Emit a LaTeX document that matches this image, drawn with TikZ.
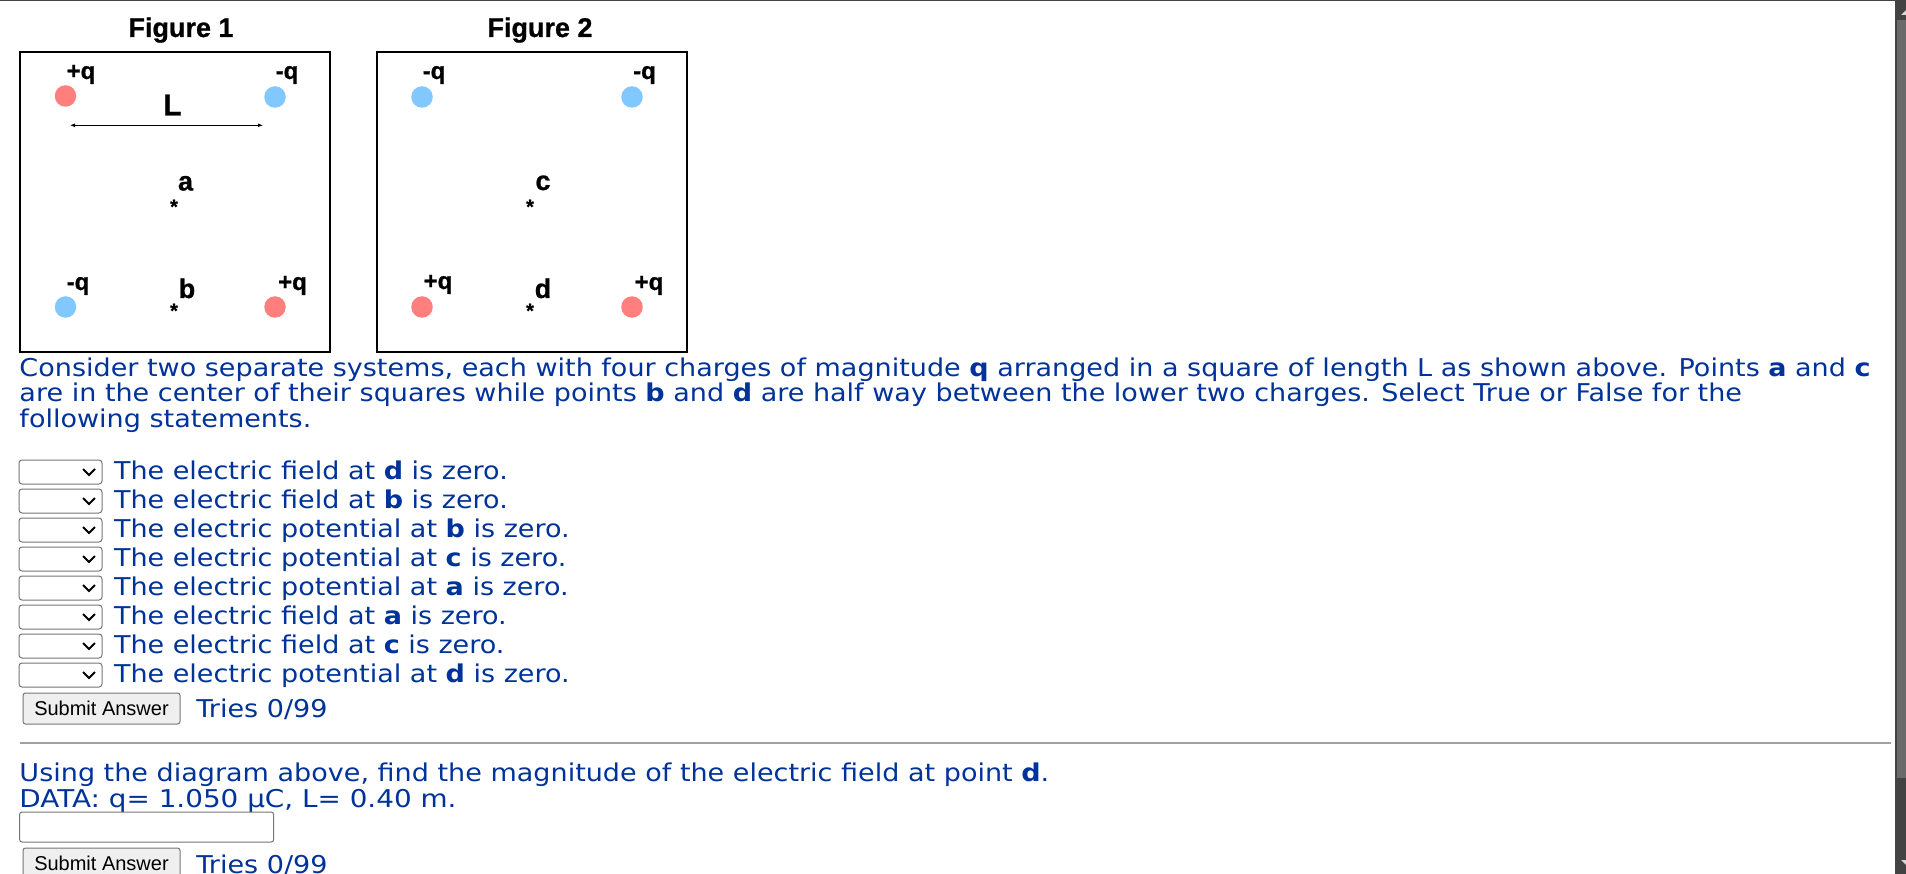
\documentclass[tikz,border=0pt]{standalone}
\usepackage{fontspec}
\setmainfont{DejaVu Sans}[FakeStretch=1.103]
\newfontfamily\arialf{Liberation Sans}
\newfontfamily\labf{Liberation Sans}[UprightFeatures={FakeBold=0.8}, BoldFeatures={FakeBold=0.8}]
\usetikzlibrary{arrows.meta,shapes.geometric,calc}
\definecolor{txtblue}{HTML}{003399}
\definecolor{redq}{HTML}{FF7F7F}
\definecolor{blueq}{HTML}{80C8FF}
\definecolor{selgray}{HTML}{767676}
\definecolor{btngray}{HTML}{EFEFEF}
\definecolor{hrgray}{HTML}{A0A0A0}
\definecolor{sbdark}{HTML}{434343}
\definecolor{sbthumb}{HTML}{6A6A6A}
\begin{document}
\begin{tikzpicture}[x=1pt,y=-1pt,
  every node/.style={inner sep=0pt, outer sep=0pt},
  charge/.style={circle, minimum size=21.5pt, draw=none},
  lbl/.style={font=\labf\bfseries\fontsize{24}{24}\selectfont, anchor=base},
  ptlbl/.style={font=\labf\bfseries\fontsize{27}{27}\selectfont, anchor=base},
  starlbl/.style={font=\labf\bfseries\fontsize{20}{20}\selectfont, anchor=base},
  title/.style={font=\labf\bfseries\fontsize{27}{27}\selectfont, anchor=base},
  Lstyle/.style={font=\labf\bfseries\fontsize{30}{30}\selectfont, anchor=base},
  figbox/.style={draw=black, line width=1.3pt, minimum width=310pt, minimum height=300pt},
  body/.style={font=\fontsize{24.5}{26}\selectfont, text=txtblue, anchor=base west},
  sel/.style={draw=selgray, rounded corners=3pt, line width=1pt, fill=white, minimum width=83pt, minimum height=24pt},
  chev/.style={line width=2pt, black},
  btn/.style={draw=selgray, line width=1pt, fill=btngray, rounded corners=2.5pt, minimum width=157pt, minimum height=31pt, font=\arialf\fontsize{20}{20}\selectfont},
  inbox/.style={draw=selgray, line width=1pt, fill=white, rounded corners=2.5pt, minimum width=254pt, minimum height=30pt},
]
\useasboundingbox (0,0) rectangle (1906,874);
\fill[white] (0,0) rectangle (1906,874);
% top line and scrollbar
\fill[sbdark] (0,0) rectangle (1895,1.5);
\fill[sbdark] (1895,0) rectangle (1906,874);
\fill[sbthumb] (1897,20) rectangle (1906,778);
\fill[white!85!black] (1901,15) -- (1906,10) -- (1906,15) -- cycle;
\fill[white!85!black] (1901,860) -- (1906,865) -- (1906,860) -- cycle;

% ---------- Figure 1 ----------
\node[title] (t1) at (181,37) {Figure 1};
\node[figbox] (box1) at (175,202) {};
\node[charge, fill=redq] (q1tl) at (65.5,96) {};
\node[charge, fill=blueq] (q1tr) at (275,97) {};
\node[charge, fill=blueq] (q1bl) at (65.5,307) {};
\node[charge, fill=redq] (q1br) at (275,307) {};
\node[lbl] (l1tl) at (81,79) {+q};
\node[lbl] (l1tr) at (287,79) {-q};
\node[lbl] (l1bl) at (78,290) {-q};
\node[lbl] (l1br) at (292.5,290) {+q};
\node[Lstyle] (Llbl) at (172.5,115.3) {L};
\coordinate (Lleft) at (70,125.3);
\coordinate (Lright) at (263,125.3);
\draw[line width=1pt, {Latex[length=5pt,width=4pt]}-{Latex[length=5pt,width=4pt]}] (Lleft) -- (Lright);
\node[ptlbl] (pa) at (185.5,190.5) {a};
\node[starlbl] (sa) at (174,213.5) {*};
\node[ptlbl] (pb) at (187,298) {b};
\node[starlbl] (sb) at (174,317.5) {*};

% ---------- Figure 2 ----------
\node[title] (t2) at (540,37) {Figure 2};
\node[figbox] (box2) at (532,202) {};
\node[charge, fill=blueq] (q2tl) at (422,97) {};
\node[charge, fill=blueq] (q2tr) at (632,97) {};
\node[charge, fill=redq] (q2bl) at (422,307) {};
\node[charge, fill=redq] (q2br) at (632,307) {};
\node[lbl] (l2tl) at (434,79) {-q};
\node[lbl] (l2tr) at (644.5,79) {-q};
\node[lbl] (l2bl) at (438,289) {+q};
\node[lbl] (l2br) at (649,290) {+q};
\node[ptlbl] (pc) at (543,190) {c};
\node[starlbl] (sc) at (530,213.5) {*};
\node[ptlbl] (pd) at (543,298) {d};
\node[starlbl] (sd) at (530,317.5) {*};

% ---------- Paragraph ----------
\node[body] (p1) at (19.5,376.5) {Consider two separate systems, each with four charges of magnitude \textbf{q} arranged in a square of length L as shown above. Points \textbf{a} and \textbf{c}};
\node[body] (p2) at (19.5,402) {are in the center of their squares while points \textbf{b} and \textbf{d} are half way between the lower two charges. Select True or False for the};
\node[body] (p3) at (19.5,427.5) {following statements.};

% ---------- Statements ----------
\foreach \i/\txt in {0/{The electric field at \textbf{d} is zero.},
                     1/{The electric field at \textbf{b} is zero.},
                     2/{The electric potential at \textbf{b} is zero.},
                     3/{The electric potential at \textbf{c} is zero.},
                     4/{The electric potential at \textbf{a} is zero.},
                     5/{The electric field at \textbf{a} is zero.},
                     6/{The electric field at \textbf{c} is zero.},
                     7/{The electric potential at \textbf{d} is zero.}} {
  \node[sel] (sel\i) at (60.5,{472+29*\i}) {};
  \draw[chev] ($(sel\i.east)+(-19,-3)$) -- ++(6,6) -- ++(6,-6);
  \node[body] (st\i) at (114,{479+29*\i}) {\txt};
}

\node[btn] (sub1) at (101.5,708.5) {Submit Answer};
\node[body] (tries1) at (196.4,717.7) {Tries 0/99};

\coordinate (hrl) at (19.5,743);
\coordinate (hrr) at (1891,743);
\draw[hrgray, line width=1.5pt] (hrl) -- (hrr);

\node[body] (q2a) at (19.5,781) {Using the diagram above, find the magnitude of the electric field at point \textbf{d}.};
\node[body] (q2b) at (19.5,807.5) {\scalebox{1.03}[1]{DATA: q= 1.050 µC, L= 0.40 m.}};
\node[inbox] (ans) at (146.6,827) {};
\node[btn] (sub2) at (101.5,863.5) {Submit Answer};
\node[body] (tries2) at (196.4,873) {Tries 0/99};
\end{tikzpicture}
\end{document}
